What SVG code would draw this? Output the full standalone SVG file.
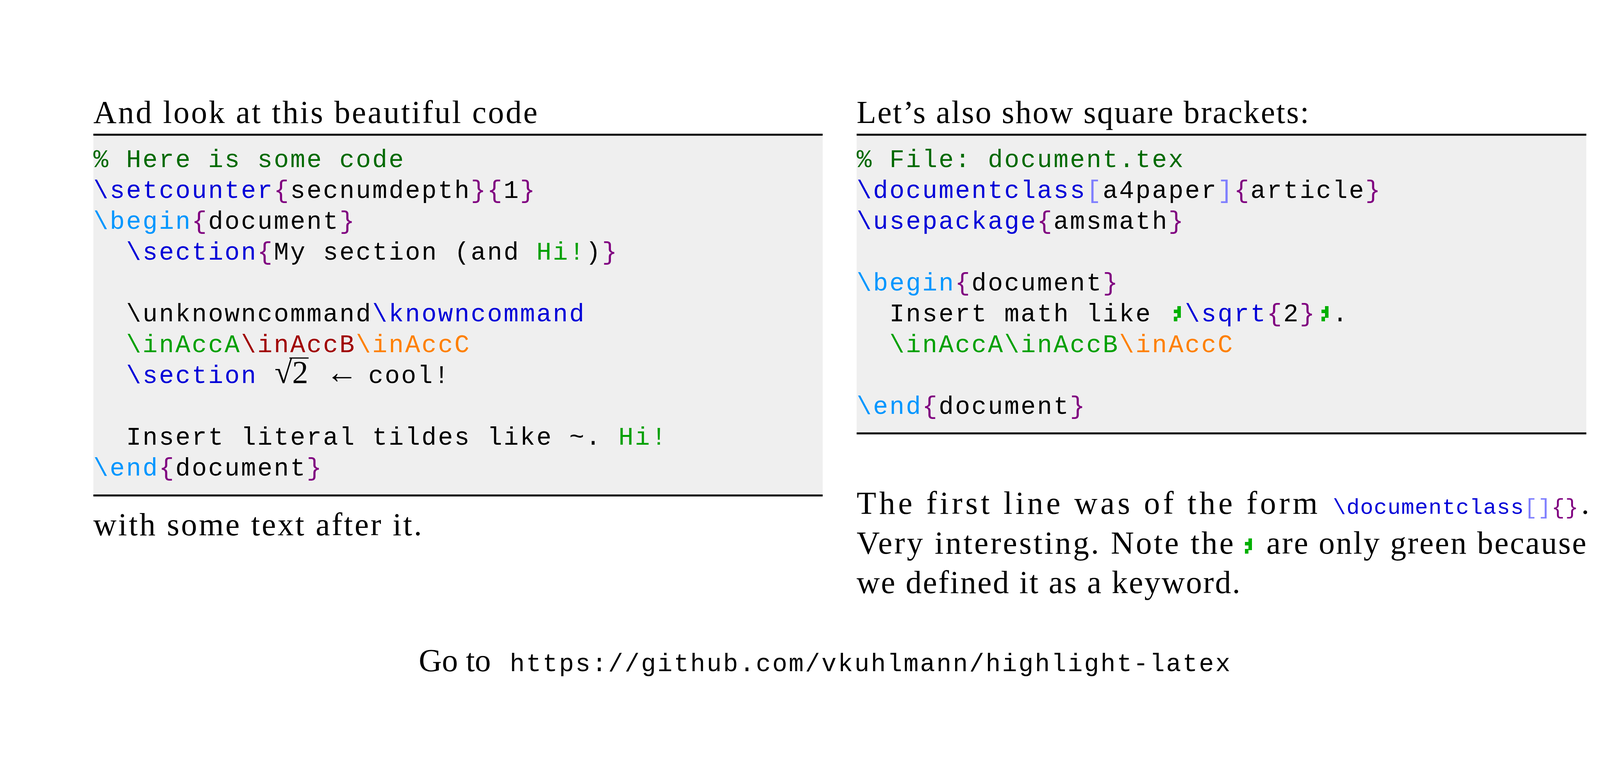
<svg xmlns="http://www.w3.org/2000/svg" width="4299" height="2008" viewBox="0 0 4299 2008">
<style>
.s{font-family:"Liberation Serif","Times New Roman",serif;font-size:82px;fill:#000}
.m{font-family:"Liberation Mono","Courier New",monospace;font-size:64px;letter-spacing:3.6px;fill:#000;white-space:pre}
.ms{font-family:"Liberation Mono","Courier New",monospace;font-size:56px;letter-spacing:1.4px}
.c{fill:#006a00}.k{fill:#0000d8}.b{fill:#0096ff}.p{fill:#800080}.g{fill:#00a000}.r{fill:#a00000}.o{fill:#ff8000}.q{fill:#7f7fff}
.rule{stroke:#000;stroke-width:5}
.box{fill:#efefef}
.dl{fill:#00b000}
</style>
<defs>
<g id="dollar"><rect x="0" y="-30" width="9" height="9" class="dl"/><rect x="9" y="-39" width="9" height="18" class="dl"/><rect x="0" y="-12" width="9" height="12" class="dl"/><rect x="9" y="-21" width="9" height="12" class="dl"/></g>
</defs>
<rect width="4299" height="2008" fill="#fff"/>
<g id="left">
<text class="s" x="239" y="315" textLength="1137">And look at this beautiful code</text>
<rect class="box" x="239" y="345" width="1867" height="924"/>
<line class="rule" x1="239" y1="345" x2="2106" y2="345"/>
<line class="rule" x1="239" y1="1269" x2="2106" y2="1269"/>
<text class="m c" x="239" y="428">% Here is some code</text>
<text class="m" x="239" y="507"><tspan class="k">\setcounter</tspan><tspan class="p">{</tspan>secnumdepth<tspan class="p">}{</tspan>1<tspan class="p">}</tspan></text>
<text class="m" x="239" y="586"><tspan class="b">\begin</tspan><tspan class="p">{</tspan>document<tspan class="p">}</tspan></text>
<text class="m" x="239" y="665">  <tspan class="k">\section</tspan><tspan class="p">{</tspan>My section (and <tspan class="g">Hi!</tspan>)<tspan class="p">}</tspan></text>
<text class="m" x="239" y="823">  \unknowncommand<tspan class="k">\knowncommand</tspan></text>
<text class="m" x="239" y="902">  <tspan class="g">\inAccA</tspan><tspan class="r">\inAccB</tspan><tspan class="o">\inAccC</tspan></text>
<text class="m" x="239" y="981">  <tspan class="k">\section</tspan></text>
<text class="s" x="703" y="981" font-size="76">√2</text>
<line x1="741" y1="917" x2="790" y2="917" stroke="#000" stroke-width="3"/>
<text class="s" x="834" y="981" font-size="76">←</text>
<text class="m" x="943" y="981">cool!</text>
<text class="m" x="239" y="1139">  Insert literal tildes like ~. <tspan class="g">Hi!</tspan></text>
<text class="m" x="239" y="1218"><tspan class="b">\end</tspan><tspan class="p">{</tspan>document<tspan class="p">}</tspan></text>
<text class="s" x="239" y="1371" textLength="841">with some text after it.</text>
</g>
<g id="right">
<text class="s" x="2193" y="315" textLength="1158">Let’s also show square brackets:</text>
<rect class="box" x="2193" y="345" width="1868" height="765"/>
<line class="rule" x1="2193" y1="345" x2="4061" y2="345"/>
<line class="rule" x1="2193" y1="1110" x2="4061" y2="1110"/>
<text class="m c" x="2193" y="428">% File: document.tex</text>
<text class="m" x="2193" y="507"><tspan class="k">\documentclass</tspan><tspan class="q">[</tspan>a4paper<tspan class="q">]</tspan><tspan class="p">{</tspan>article<tspan class="p">}</tspan></text>
<text class="m" x="2193" y="586"><tspan class="k">\usepackage</tspan><tspan class="p">{</tspan>amsmath<tspan class="p">}</tspan></text>
<text class="m" x="2193" y="744"><tspan class="b">\begin</tspan><tspan class="p">{</tspan>document<tspan class="p">}</tspan></text>
<text class="m" x="2193" y="823">  Insert math like  <tspan class="k">\sqrt</tspan><tspan class="p">{</tspan>2<tspan class="p">}</tspan> .</text>
<use href="#dollar" x="3005" y="823"/>
<use href="#dollar" x="3383" y="823"/>
<text class="m" x="2193" y="902">  <tspan class="g">\inAccA\inAccB</tspan><tspan class="o">\inAccC</tspan></text>
<text class="m" x="2193" y="1060"><tspan class="b">\end</tspan><tspan class="p">{</tspan>document<tspan class="p">}</tspan></text>
<text class="s" x="2193" y="1316" textLength="1180" lengthAdjust="spacing">The first line was of the form</text>
<text class="ms" x="3412" y="1316"><tspan class="k">\documentclass</tspan><tspan class="q">[]</tspan><tspan class="p">{}</tspan></text>
<text class="s" x="4048" y="1316">.</text>
<text class="s" x="2193" y="1418" textLength="965" lengthAdjust="spacing">Very interesting. Note the</text>
<use href="#dollar" x="3187" y="1418"/>
<text class="s" x="3242" y="1418" textLength="819" lengthAdjust="spacing">are only green because</text>
<text class="s" x="2193" y="1519" textLength="982">we defined it as a keyword.</text>
</g>
<g id="footer">
<text class="s" x="1072" y="1719">Go to</text>
<text class="m" x="1305" y="1719">https://github.com/vkuhlmann/highlight-latex</text>
</g>
</svg>
